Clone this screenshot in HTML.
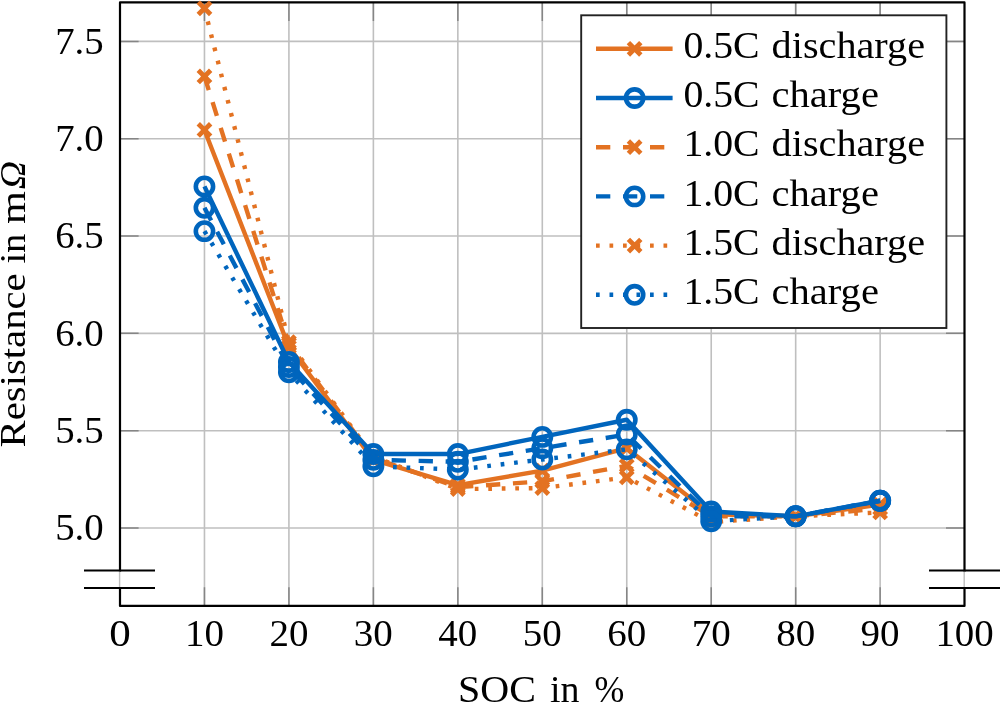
<!DOCTYPE html>
<html lang="en"><head><meta charset="utf-8"><title>Resistance over SOC</title>
<style>html,body{margin:0;padding:0;background:#fff;overflow:hidden}svg{display:block}text{font-family:"Liberation Serif","DejaVu Serif",serif;fill:#000}</style></head><body>
<svg width="1000" height="704" viewBox="0 0 1000 704">
<rect width="1000" height="704" fill="#fff"/>
<g stroke="#BFBFBF" stroke-width="1.6" fill="none">
<path d="M204.46 2.4V605.9"/>
<path d="M288.92 2.4V605.9"/>
<path d="M373.38 2.4V605.9"/>
<path d="M457.84 2.4V605.9"/>
<path d="M542.30 2.4V605.9"/>
<path d="M626.76 2.4V605.9"/>
<path d="M711.22 2.4V605.9"/>
<path d="M795.68 2.4V605.9"/>
<path d="M880.14 2.4V605.9"/>
<path d="M120.0 528.00H964.6"/>
<path d="M120.0 430.68H964.6"/>
<path d="M120.0 333.36H964.6"/>
<path d="M120.0 236.04H964.6"/>
<path d="M120.0 138.72H964.6"/>
<path d="M120.0 41.40H964.6"/>
</g>
<g stroke="#858585" stroke-width="1.5" fill="none">
<path d="M204.46 2.4v18.6M204.46 605.9v-18.6"/>
<path d="M288.92 2.4v18.6M288.92 605.9v-18.6"/>
<path d="M373.38 2.4v18.6M373.38 605.9v-18.6"/>
<path d="M457.84 2.4v18.6M457.84 605.9v-18.6"/>
<path d="M542.30 2.4v18.6M542.30 605.9v-18.6"/>
<path d="M626.76 2.4v18.6M626.76 605.9v-18.6"/>
<path d="M711.22 2.4v18.6M711.22 605.9v-18.6"/>
<path d="M795.68 2.4v18.6M795.68 605.9v-18.6"/>
<path d="M880.14 2.4v18.6M880.14 605.9v-18.6"/>
<path d="M120.0 528.00h18.6M964.6 528.00h-18.6"/>
<path d="M120.0 430.68h18.6M964.6 430.68h-18.6"/>
<path d="M120.0 333.36h18.6M964.6 333.36h-18.6"/>
<path d="M120.0 236.04h18.6M964.6 236.04h-18.6"/>
<path d="M120.0 138.72h18.6M964.6 138.72h-18.6"/>
<path d="M120.0 41.40h18.6M964.6 41.40h-18.6"/>
</g>
<rect x="120.0" y="2.4" width="844.50" height="603.50" fill="none" stroke="#000" stroke-width="2.2" stroke-linejoin="round"/>
<rect x="118.0" y="571.6" width="4" height="15.4" fill="#fff"/>
<rect x="962.4" y="571.6" width="4.4" height="15.4" fill="#fff"/>
<path d="M119.6 571.6V587M964.2 571.6V587" stroke="#bdbdbd" stroke-width="1.4" fill="none"/>
<g stroke="#000" stroke-width="2.1" fill="none">
<path d="M84 570.55H155M84 588.05H155M929 570.55H1000M929 588.05H1000"/>
</g>
<polyline points="204.46,129.96 288.92,346.98 373.38,459.88 457.84,485.18 542.30,470.58 626.76,448.20 711.22,514.38 795.68,516.32 880.14,504.64" fill="none" stroke="#E37222" stroke-width="4.4" stroke-linejoin="round"/>
<path d="M198.26 123.76L210.66 136.16M198.26 136.16L210.66 123.76" stroke="#E37222" stroke-width="4.8" fill="none"/>
<path d="M282.72 340.78L295.12 353.18M282.72 353.18L295.12 340.78" stroke="#E37222" stroke-width="4.8" fill="none"/>
<path d="M367.18 453.68L379.58 466.08M367.18 466.08L379.58 453.68" stroke="#E37222" stroke-width="4.8" fill="none"/>
<path d="M451.64 478.98L464.04 491.38M451.64 491.38L464.04 478.98" stroke="#E37222" stroke-width="4.8" fill="none"/>
<path d="M536.10 464.38L548.50 476.78M536.10 476.78L548.50 464.38" stroke="#E37222" stroke-width="4.8" fill="none"/>
<path d="M620.56 442.00L632.96 454.40M620.56 454.40L632.96 442.00" stroke="#E37222" stroke-width="4.8" fill="none"/>
<path d="M705.02 508.18L717.42 520.58M705.02 520.58L717.42 508.18" stroke="#E37222" stroke-width="4.8" fill="none"/>
<path d="M789.48 510.12L801.88 522.52M789.48 522.52L801.88 510.12" stroke="#E37222" stroke-width="4.8" fill="none"/>
<path d="M873.94 498.44L886.34 510.84M873.94 510.84L886.34 498.44" stroke="#E37222" stroke-width="4.8" fill="none"/>
<polyline points="204.46,76.44 288.92,344.07 373.38,457.93 457.84,487.13 542.30,481.29 626.76,465.72 711.22,516.32 795.68,516.32 880.14,508.54" fill="none" stroke="#E37222" stroke-width="4.4" stroke-linejoin="round" stroke-dasharray="14.3 12.7"/>
<path d="M198.26 70.24L210.66 82.64M198.26 82.64L210.66 70.24" stroke="#E37222" stroke-width="4.8" fill="none"/>
<path d="M282.72 337.87L295.12 350.27M282.72 350.27L295.12 337.87" stroke="#E37222" stroke-width="4.8" fill="none"/>
<path d="M367.18 451.73L379.58 464.13M367.18 464.13L379.58 451.73" stroke="#E37222" stroke-width="4.8" fill="none"/>
<path d="M451.64 480.93L464.04 493.33M451.64 493.33L464.04 480.93" stroke="#E37222" stroke-width="4.8" fill="none"/>
<path d="M536.10 475.09L548.50 487.49M536.10 487.49L548.50 475.09" stroke="#E37222" stroke-width="4.8" fill="none"/>
<path d="M620.56 459.52L632.96 471.92M620.56 471.92L632.96 459.52" stroke="#E37222" stroke-width="4.8" fill="none"/>
<path d="M705.02 510.12L717.42 522.52M705.02 522.52L717.42 510.12" stroke="#E37222" stroke-width="4.8" fill="none"/>
<path d="M789.48 510.12L801.88 522.52M789.48 522.52L801.88 510.12" stroke="#E37222" stroke-width="4.8" fill="none"/>
<path d="M873.94 502.34L886.34 514.74M873.94 514.74L886.34 502.34" stroke="#E37222" stroke-width="4.8" fill="none"/>
<polyline points="204.46,8.31 288.92,342.12 373.38,456.57 457.84,489.07 542.30,488.10 626.76,477.39 711.22,522.16 795.68,516.32 880.14,512.43" fill="none" stroke="#E37222" stroke-width="4.4" stroke-linejoin="round" stroke-dasharray="3.7 9.8"/>
<path d="M198.26 2.11L210.66 14.51M198.26 14.51L210.66 2.11" stroke="#E37222" stroke-width="4.8" fill="none"/>
<path d="M282.72 335.92L295.12 348.32M282.72 348.32L295.12 335.92" stroke="#E37222" stroke-width="4.8" fill="none"/>
<path d="M367.18 450.37L379.58 462.77M367.18 462.77L379.58 450.37" stroke="#E37222" stroke-width="4.8" fill="none"/>
<path d="M451.64 482.87L464.04 495.27M451.64 495.27L464.04 482.87" stroke="#E37222" stroke-width="4.8" fill="none"/>
<path d="M536.10 481.90L548.50 494.30M536.10 494.30L548.50 481.90" stroke="#E37222" stroke-width="4.8" fill="none"/>
<path d="M620.56 471.19L632.96 483.59M620.56 483.59L632.96 471.19" stroke="#E37222" stroke-width="4.8" fill="none"/>
<path d="M705.02 515.96L717.42 528.36M705.02 528.36L717.42 515.96" stroke="#E37222" stroke-width="4.8" fill="none"/>
<path d="M789.48 510.12L801.88 522.52M789.48 522.52L801.88 510.12" stroke="#E37222" stroke-width="4.8" fill="none"/>
<path d="M873.94 506.23L886.34 518.63M873.94 518.63L886.34 506.23" stroke="#E37222" stroke-width="4.8" fill="none"/>
<polyline points="204.46,186.41 288.92,361.97 373.38,454.04 457.84,454.04 542.30,436.91 626.76,419.78 711.22,511.46 795.68,516.32 880.14,500.75" fill="none" stroke="#0065BD" stroke-width="4.4" stroke-linejoin="round"/>
<circle cx="204.46" cy="186.41" r="8.65" stroke="#0065BD" stroke-width="4.6" fill="none"/>
<circle cx="288.92" cy="361.97" r="8.65" stroke="#0065BD" stroke-width="4.6" fill="none"/>
<circle cx="373.38" cy="454.04" r="8.65" stroke="#0065BD" stroke-width="4.6" fill="none"/>
<circle cx="457.84" cy="454.04" r="8.65" stroke="#0065BD" stroke-width="4.6" fill="none"/>
<circle cx="542.30" cy="436.91" r="8.65" stroke="#0065BD" stroke-width="4.6" fill="none"/>
<circle cx="626.76" cy="419.78" r="8.65" stroke="#0065BD" stroke-width="4.6" fill="none"/>
<circle cx="711.22" cy="511.46" r="8.65" stroke="#0065BD" stroke-width="4.6" fill="none"/>
<circle cx="795.68" cy="516.32" r="8.65" stroke="#0065BD" stroke-width="4.6" fill="none"/>
<circle cx="880.14" cy="500.75" r="8.65" stroke="#0065BD" stroke-width="4.6" fill="none"/>
<polyline points="204.46,207.82 288.92,367.03 373.38,459.88 457.84,461.82 542.30,448.20 626.76,434.57 711.22,516.32 795.68,516.32 880.14,500.75" fill="none" stroke="#0065BD" stroke-width="4.4" stroke-linejoin="round" stroke-dasharray="14.3 12.7"/>
<circle cx="204.46" cy="207.82" r="8.65" stroke="#0065BD" stroke-width="4.6" fill="none"/>
<circle cx="288.92" cy="367.03" r="8.65" stroke="#0065BD" stroke-width="4.6" fill="none"/>
<circle cx="373.38" cy="459.88" r="8.65" stroke="#0065BD" stroke-width="4.6" fill="none"/>
<circle cx="457.84" cy="461.82" r="8.65" stroke="#0065BD" stroke-width="4.6" fill="none"/>
<circle cx="542.30" cy="448.20" r="8.65" stroke="#0065BD" stroke-width="4.6" fill="none"/>
<circle cx="626.76" cy="434.57" r="8.65" stroke="#0065BD" stroke-width="4.6" fill="none"/>
<circle cx="711.22" cy="516.32" r="8.65" stroke="#0065BD" stroke-width="4.6" fill="none"/>
<circle cx="795.68" cy="516.32" r="8.65" stroke="#0065BD" stroke-width="4.6" fill="none"/>
<circle cx="880.14" cy="500.75" r="8.65" stroke="#0065BD" stroke-width="4.6" fill="none"/>
<polyline points="204.46,231.17 288.92,372.29 373.38,466.30 457.84,469.61 542.30,459.49 626.76,449.37 711.22,521.19 795.68,516.32 880.14,500.75" fill="none" stroke="#0065BD" stroke-width="4.4" stroke-linejoin="round" stroke-dasharray="3.7 9.8"/>
<circle cx="204.46" cy="231.17" r="8.65" stroke="#0065BD" stroke-width="4.6" fill="none"/>
<circle cx="288.92" cy="372.29" r="8.65" stroke="#0065BD" stroke-width="4.6" fill="none"/>
<circle cx="373.38" cy="466.30" r="8.65" stroke="#0065BD" stroke-width="4.6" fill="none"/>
<circle cx="457.84" cy="469.61" r="8.65" stroke="#0065BD" stroke-width="4.6" fill="none"/>
<circle cx="542.30" cy="459.49" r="8.65" stroke="#0065BD" stroke-width="4.6" fill="none"/>
<circle cx="626.76" cy="449.37" r="8.65" stroke="#0065BD" stroke-width="4.6" fill="none"/>
<circle cx="711.22" cy="521.19" r="8.65" stroke="#0065BD" stroke-width="4.6" fill="none"/>
<circle cx="795.68" cy="516.32" r="8.65" stroke="#0065BD" stroke-width="4.6" fill="none"/>
<circle cx="880.14" cy="500.75" r="8.65" stroke="#0065BD" stroke-width="4.6" fill="none"/>
<text x="103.7" y="540.20" font-size="37" text-anchor="end" textLength="48.5" lengthAdjust="spacingAndGlyphs">5.0</text>
<text x="103.7" y="442.88" font-size="37" text-anchor="end" textLength="48.5" lengthAdjust="spacingAndGlyphs">5.5</text>
<text x="103.7" y="345.56" font-size="37" text-anchor="end" textLength="48.5" lengthAdjust="spacingAndGlyphs">6.0</text>
<text x="103.7" y="248.24" font-size="37" text-anchor="end" textLength="48.5" lengthAdjust="spacingAndGlyphs">6.5</text>
<text x="103.7" y="150.92" font-size="37" text-anchor="end" textLength="48.5" lengthAdjust="spacingAndGlyphs">7.0</text>
<text x="103.7" y="53.60" font-size="37" text-anchor="end" textLength="48.5" lengthAdjust="spacingAndGlyphs">7.5</text>
<text x="120.00" y="645.6" font-size="37" text-anchor="middle" textLength="21.5" lengthAdjust="spacingAndGlyphs">0</text>
<text x="204.46" y="645.6" font-size="37" text-anchor="middle" textLength="39" lengthAdjust="spacingAndGlyphs">10</text>
<text x="288.92" y="645.6" font-size="37" text-anchor="middle" textLength="39" lengthAdjust="spacingAndGlyphs">20</text>
<text x="373.38" y="645.6" font-size="37" text-anchor="middle" textLength="39" lengthAdjust="spacingAndGlyphs">30</text>
<text x="457.84" y="645.6" font-size="37" text-anchor="middle" textLength="39" lengthAdjust="spacingAndGlyphs">40</text>
<text x="542.30" y="645.6" font-size="37" text-anchor="middle" textLength="39" lengthAdjust="spacingAndGlyphs">50</text>
<text x="626.76" y="645.6" font-size="37" text-anchor="middle" textLength="39" lengthAdjust="spacingAndGlyphs">60</text>
<text x="711.22" y="645.6" font-size="37" text-anchor="middle" textLength="39" lengthAdjust="spacingAndGlyphs">70</text>
<text x="795.68" y="645.6" font-size="37" text-anchor="middle" textLength="39" lengthAdjust="spacingAndGlyphs">80</text>
<text x="880.14" y="645.6" font-size="37" text-anchor="middle" textLength="39" lengthAdjust="spacingAndGlyphs">90</text>
<text x="964.60" y="645.6" font-size="37" text-anchor="middle" textLength="58.3" lengthAdjust="spacingAndGlyphs">100</text>
<text x="458.1" y="702" font-size="37" textLength="77.8" lengthAdjust="spacingAndGlyphs">SOC</text>
<text x="550.0" y="702" font-size="37" textLength="29.5" lengthAdjust="spacingAndGlyphs">in</text>
<text x="594.4" y="702" font-size="37" textLength="29.8" lengthAdjust="spacingAndGlyphs">%</text>
<g transform="translate(25.1 446.6) rotate(-90)">
<text x="-0.8" y="0" font-size="36" textLength="174" lengthAdjust="spacingAndGlyphs">Resistance</text>
<text x="183" y="0" font-size="36" textLength="30" lengthAdjust="spacingAndGlyphs">in</text>
<text x="222.5" y="0" font-size="36" textLength="33" lengthAdjust="spacingAndGlyphs">m</text>
<text x="257.4" y="0" font-size="36" textLength="28.3" lengthAdjust="spacingAndGlyphs" font-style="italic">Ω</text>
</g>
<rect x="581.2" y="15.3" width="365.20" height="312.70" fill="#fff" stroke="#222" stroke-width="1.9"/>
<path d="M596 48.80H672.6" fill="none" stroke="#E37222" stroke-width="4.4"/>
<path d="M628.40 42.60L640.80 55.00M628.40 55.00L640.80 42.60" stroke="#E37222" stroke-width="4.8" fill="none"/>
<text x="683.4" y="57.90" font-size="37" textLength="76.2" lengthAdjust="spacingAndGlyphs">0.5C</text>
<text x="771.6" y="57.90" font-size="37" textLength="153.4" lengthAdjust="spacingAndGlyphs">discharge</text>
<path d="M596 98.00H672.6" fill="none" stroke="#0065BD" stroke-width="4.4"/>
<circle cx="634.60" cy="98.00" r="8.65" stroke="#0065BD" stroke-width="4.6" fill="none"/>
<text x="683.4" y="107.10" font-size="37" textLength="76.2" lengthAdjust="spacingAndGlyphs">0.5C</text>
<text x="771.6" y="107.10" font-size="37" textLength="107.3" lengthAdjust="spacingAndGlyphs">charge</text>
<path d="M596 147.20H672.6" fill="none" stroke="#E37222" stroke-width="4.4" stroke-dasharray="14.3 12.7"/>
<path d="M628.40 141.00L640.80 153.40M628.40 153.40L640.80 141.00" stroke="#E37222" stroke-width="4.8" fill="none"/>
<text x="683.4" y="156.30" font-size="37" textLength="76.2" lengthAdjust="spacingAndGlyphs">1.0C</text>
<text x="771.6" y="156.30" font-size="37" textLength="153.4" lengthAdjust="spacingAndGlyphs">discharge</text>
<path d="M596 196.40H672.6" fill="none" stroke="#0065BD" stroke-width="4.4" stroke-dasharray="14.3 12.7"/>
<circle cx="634.60" cy="196.40" r="8.65" stroke="#0065BD" stroke-width="4.6" fill="none"/>
<text x="683.4" y="205.50" font-size="37" textLength="76.2" lengthAdjust="spacingAndGlyphs">1.0C</text>
<text x="771.6" y="205.50" font-size="37" textLength="107.3" lengthAdjust="spacingAndGlyphs">charge</text>
<path d="M596 245.60H672.6" fill="none" stroke="#E37222" stroke-width="4.4" stroke-dasharray="3.7 9.8"/>
<path d="M628.40 239.40L640.80 251.80M628.40 251.80L640.80 239.40" stroke="#E37222" stroke-width="4.8" fill="none"/>
<text x="683.4" y="254.70" font-size="37" textLength="76.2" lengthAdjust="spacingAndGlyphs">1.5C</text>
<text x="771.6" y="254.70" font-size="37" textLength="153.4" lengthAdjust="spacingAndGlyphs">discharge</text>
<path d="M596 294.80H672.6" fill="none" stroke="#0065BD" stroke-width="4.4" stroke-dasharray="3.7 9.8"/>
<circle cx="634.60" cy="294.80" r="8.65" stroke="#0065BD" stroke-width="4.6" fill="none"/>
<text x="683.4" y="303.90" font-size="37" textLength="76.2" lengthAdjust="spacingAndGlyphs">1.5C</text>
<text x="771.6" y="303.90" font-size="37" textLength="107.3" lengthAdjust="spacingAndGlyphs">charge</text>
</svg></body></html>
